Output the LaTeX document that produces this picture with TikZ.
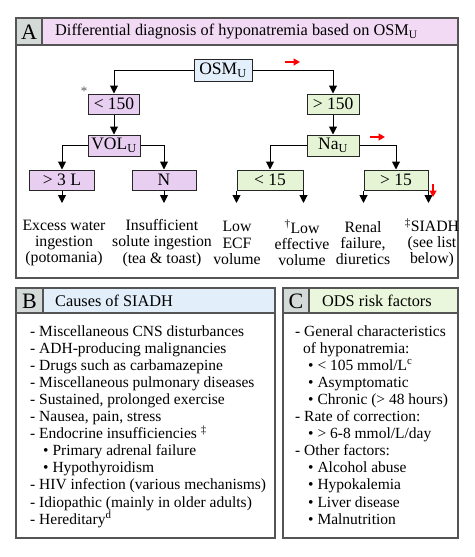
\documentclass[tikz,border=0pt]{standalone}
\usepackage{fontspec}
\setmainfont{Liberation Serif}
\usetikzlibrary{arrows.meta}
\definecolor{frame}{HTML}{555555}
\definecolor{hdrA}{HTML}{F2DAF5}
\definecolor{hdrB}{HTML}{E2EEFA}
\definecolor{hdrC}{HTML}{EBF7DC}
\definecolor{lettercell}{HTML}{D3DAD8}
\definecolor{lav}{HTML}{E8CFF2}
\definecolor{ltblue}{HTML}{E3EFFA}
\definecolor{ltgreen}{HTML}{E6F4D6}
\begin{document}
\begin{tikzpicture}[x=1pt,y=-1pt,
 box/.style={draw=black!85, line width=1pt, minimum height=20pt, inner sep=0pt, font=\fontsize{17.5}{18}\selectfont},
 arr/.style={line width=1pt, -{Triangle[length=8pt,width=8pt]}},
 redarr/.style={red, line width=1.8pt, -{Triangle[length=6.5pt,width=7pt]}},
 leaf/.style={align=center, font=\fontsize{15.8}{16.2}\selectfont, inner sep=0pt},
 panel/.style={draw=frame, line width=1.3pt},
 hdr/.style={anchor=west, font=\fontsize{16.3}{18}\selectfont, inner sep=0pt},
 letter/.style={font=\fontsize{22}{24}\selectfont, inner sep=0pt},
 listtxt/.style={anchor=base west, font=\fontsize{15.5}{17}\selectfont, inner sep=0pt},
 ]
\useasboundingbox (0,0) rectangle (474,557);
\fill[white] (0,0) rectangle (474,557);
% ---------- Panel A ----------
\fill[hdrA] (42,18) rectangle (458,45);
\fill[lettercell] (16,18) rectangle (42,45);
\draw[panel] (16,18) rectangle (458,278);
\draw[panel] (16,45) -- (458,45) (42,18) -- (42,45);
\node[letter] (letA) at (29,32) {A};
\node[hdr] (titA) at (55,32) {Differential diagnosis of hyponatremia based on OSM\textsubscript{U}};
% tree nodes
\node[box, fill=ltblue, minimum width=58pt, minimum height=22pt] (osm) at (223,70) {OSM\textsubscript{U}};
\node[box, fill=lav, minimum width=51pt] (lt150) at (114,104) {< 150};
\node[box, fill=ltgreen, minimum width=52pt] (gt150) at (333,104) {> 150};
\node[box, fill=lav, minimum width=52pt, minimum height=21pt] (vol) at (114,145.5) {VOL\textsubscript{U}};
\node[box, fill=ltgreen, minimum width=52pt, minimum height=21pt] (na) at (333,145.5) {Na\textsubscript{U}};
\node[box, fill=lav, minimum width=65pt] (gt3) at (62,180) {> 3 L};
\node[box, fill=lav, minimum width=64pt] (nn) at (164,180) {N};
\node[box, fill=ltgreen, minimum width=66pt] (lt15) at (270,180) {< 15};
\node[box, fill=ltgreen, minimum width=64pt] (gt15) at (396,180) {> 15};
\node[inner sep=0pt, text=black!65, font=\fontsize{13}{13}\selectfont] (ast) at (84,91) {*};
% connectors
\draw[arr] (osm.west) -| (lt150.north);
\draw[arr] (osm.east) -| (gt150.north);
\draw[arr] (lt150.south) -- (vol.north);
\draw[arr] (gt150.south) -- (na.north);
\draw[arr] (vol.west) -| (gt3.north);
\draw[arr] (vol.east) -| (nn.north);
\draw[arr] (na.west) -| (lt15.north);
\draw[arr] (na.east) -| (gt15.north);
% leaves
\node[leaf] (l1) at (64,243) {Excess water\\ingestion\\(potomania)};
\node[leaf] (l2) at (162,243) {Insufficient\\solute ingestion\\(tea \& toast)};
\node[leaf] (l3) at (237,243) {Low\\ECF\\volume};
\node[leaf] (l4) at (302,243) {\textsuperscript{†}Low\\effective\\volume};
\node[leaf] (l5) at (363,243) {Renal\\failure,\\diuretics};
\node[leaf] (l6) at (432,243) {\textsuperscript{‡}SIADH\\(see list\\below)};
\coordinate (e1) at (gt3.south |- 0,203);
\coordinate (e2) at (nn.south |- 0,203);
\coordinate (e3) at (lt15.south west |- 0,203);
\coordinate (e4) at (lt15.south east |- 0,203);
\coordinate (e5) at (gt15.south west |- 0,203);
\coordinate (e6) at (gt15.south east |- 0,203);
\draw[arr] (gt3.south) -- (e1);
\draw[arr] (nn.south) -- (e2);
\draw[arr] (lt15.south west) -- (e3);
\draw[arr] (lt15.south east) -- (e4);
\draw[arr] (gt15.south west) -- (e5);
\draw[arr] (gt15.south east) -- (e6);
% red arrows
\coordinate (r1a) at (285,62); \coordinate (r1b) at (300,62);
\coordinate (r2a) at (370,137); \coordinate (r2b) at (385,137);
\coordinate (r3a) at (433,184); \coordinate (r3b) at (433,197);
\draw[redarr] (r1a) -- (r1b);
\draw[redarr] (r2a) -- (r2b);
\draw[redarr] (r3a) -- (r3b);
% ---------- Panel B ----------
\fill[hdrB] (43,288) rectangle (275,313);
\fill[lettercell] (16,288) rectangle (43,313);
\draw[panel] (16,288) rectangle (275,538);
\draw[panel] (16,313) -- (275,313) (43,288) -- (43,313);
\node[letter] (letB) at (29.5,301) {B};
\node[hdr] (titB) at (55,301) {Causes of SIADH};
\foreach \t [count=\i from 0] in {
 {- Miscellaneous CNS disturbances},
 {- ADH-producing malignancies},
 {- Drugs such as carbamazepine},
 {- Miscellaneous pulmonary diseases},
 {- Sustained, prolonged exercise},
 {- Nausea, pain, stress},
 {- Endocrine insufficiencies \textsuperscript{‡}},
 {\hspace*{13pt}• Primary adrenal failure},
 {\hspace*{13pt}• Hypothyroidism},
 {- HIV infection (various mechanisms)},
 {- Idiopathic (mainly in older adults)},
 {- Hereditary\textsuperscript{d}}}
 \node[listtxt] (b\i) at (30,{336+17.1*\i}) {\t};
% ---------- Panel C ----------
\fill[hdrC] (309,288) rectangle (458,313);
\fill[lettercell] (283,288) rectangle (309,313);
\draw[panel] (283,288) rectangle (458,538);
\draw[panel] (283,313) -- (458,313) (309,288) -- (309,313);
\node[letter] (letC) at (296,301) {C};
\node[hdr] (titC) at (322,301) {ODS risk factors};
\foreach \t [count=\i from 0] in {
 {- General characteristics},
 {\hspace*{8pt}of hyponatremia:},
 {\hspace*{13pt}• < 105 mmol/L\textsuperscript{c}},
 {\hspace*{13pt}• Asymptomatic},
 {\hspace*{13pt}• Chronic (> 48 hours)},
 {- Rate of correction:},
 {\hspace*{13pt}• > 6-8 mmol/L/day},
 {- Other factors:},
 {\hspace*{13pt}• Alcohol abuse},
 {\hspace*{13pt}• Hypokalemia},
 {\hspace*{13pt}• Liver disease},
 {\hspace*{13pt}• Malnutrition}}
 \node[listtxt] (c\i) at (295,{336+17.1*\i}) {\t};
\end{tikzpicture}
\end{document}
